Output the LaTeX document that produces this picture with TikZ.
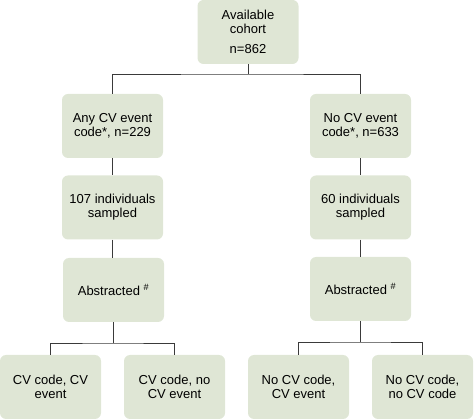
\documentclass[tikz,border=0pt]{standalone}
\usepackage{fontspec}
\setmainfont{Liberation Sans}
\definecolor{boxfill}{HTML}{DFE6D5}
\definecolor{linecol}{HTML}{3A3A3A}
\begin{document}
\begin{tikzpicture}[x=1pt,y=-1pt,
  fbox/.style={rectangle, fill=boxfill, rounded corners=6pt, minimum width=101pt, minimum height=64pt, align=center, inner sep=2pt, font=\fontsize{13}{14}\selectfont},
  conn/.style={draw=linecol, line width=0.9pt}]
\useasboundingbox (0,0) rectangle (474,419);
\node[fbox] (top) at (248,32) {Available\\cohort\\[6pt]n=862};
\node[fbox] (any) at (112.5,126) {Any CV event\\code*, n=229};
\node[fbox] (no) at (360.5,126) {No CV event\\code*, n=633};
\node[fbox] (s1) at (112.5,207.5) {107 individuals\\sampled};
\node[fbox] (s2) at (360.5,207.5) {60 individuals\\sampled};
\node[fbox] (a1) at (113.5,290) {Abstracted \textsuperscript{\#}};
\node[fbox] (a2) at (360.5,289) {Abstracted \textsuperscript{\#}};
\node[fbox] (c1) at (50.5,387) {CV code, CV\\event};
\node[fbox] (c2) at (174.5,387) {CV code, no\\CV event};
\node[fbox] (c3) at (298.5,387) {No CV code,\\CV event};
\node[fbox] (c4) at (422.5,387) {No CV code,\\no CV code};
\coordinate (j1) at (248,74);
\coordinate (j2) at (113.5,343);
\coordinate (j3) at (360.5,342);
\draw[conn] (top.south) -- (j1);
\draw[conn] (any.north) |- (j1) -| (no.north);
\draw[conn] (any.south) -- (s1.north);
\draw[conn] (no.south) -- (s2.north);
\draw[conn] (s1.south) -- (s1.south |- a1.north);
\draw[conn] (s2.south) -- (s2.south |- a2.north);
\draw[conn] (a1.south) -- (j2);
\draw[conn] (c1.north) |- (j2) -| (c2.north);
\draw[conn] (a2.south) -- (j3);
\draw[conn] (c3.north) |- (j3) -| (c4.north);
\end{tikzpicture}
\end{document}
